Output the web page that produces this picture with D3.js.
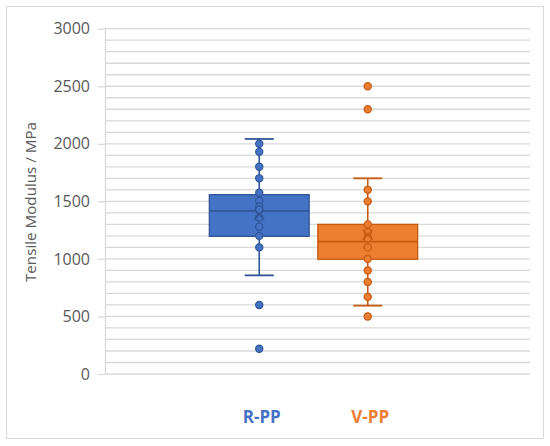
<!DOCTYPE html>
<html><head><meta charset="utf-8">
<script src="https://cdn.jsdelivr.net/npm/d3@7"></script>
<style>body{margin:0;background:#fff}svg{display:block}</style>
</head><body>
<svg id="c" width="550" height="446"></svg>
<script>
const series = ["R-PP", "V-PP"];
const fills = ["#4472C4", "#ED7D31"];
const strokes = ["#2F5597", "#C55A11"];
const q1 = [1196, 997];
const median = [1416, 1150];
const q3 = [1558, 1300];
const whiskerLow = [857, 594];
const whiskerHigh = [2042, 1700];
const mean = [1385, 1210];
const pointsRPP = [2000, 1930, 1800, 1700, 1575, 1505, 1455, 1430, 1360, 1280, 1200, 1100, 600, 220];
const pointsVPP = [2500, 2300, 1600, 1500, 1300, 1230, 1180, 1100, 1000, 900, 800, 670, 500];
const points = [pointsRPP, pointsVPP];
const yTicks = [0, 500, 1000, 1500, 2000, 2500, 3000];
const yTitle = "Tensile Modulus / MPa";

const svg = d3.select("#c");
const font = "'Open Sans', 'Noto Sans', sans-serif";
svg.append("rect").attr("x", 6.5).attr("y", 6.5).attr("width", 537).attr("height", 432)
  .attr("fill", "#fff").attr("stroke", "#D9D9D9").attr("stroke-width", 1);

const left = 105, right = 530;
const y = d3.scaleLinear().domain([0, 3000]).range([374, 28.7]);
const x = d3.scaleBand().domain(series).range([205, 422]).paddingInner(0.08).paddingOuter(0.04);

// gridlines
const minor = d3.range(0, 3001, 100);
svg.append("g").selectAll("line").data(minor).join("line")
  .attr("x1", left).attr("x2", right)
  .attr("y1", d => y(d)).attr("y2", d => y(d))
  .attr("stroke", "#D9D9D9").attr("stroke-width", 1.3);

// y axis
const axis = d3.axisLeft(y).tickValues(yTicks).tickFormat(d3.format("d")).tickSize(7).tickPadding(8).tickSizeOuter(0);
const gA = svg.append("g").attr("transform", `translate(${left},0)`).call(axis);
gA.select(".domain").attr("stroke", "#D9D9D9").attr("stroke-width", 1.3);
gA.selectAll(".tick line").attr("stroke", "#D9D9D9").attr("stroke-width", 1.3);
gA.selectAll(".tick text").attr("fill", "#595959").attr("font-family", font).attr("font-size", 16);

svg.append("text").attr("transform", "translate(36,202) rotate(-90)")
  .attr("text-anchor", "middle").attr("font-family", font).attr("font-size", 15.2)
  .attr("fill", "#595959").text(yTitle);

series.forEach((s, i) => {
  const g = svg.append("g");
  const x0 = x(s), bw = x.bandwidth(), cx = x0 + bw / 2;
  const cap = 29;
  // whiskers
  g.append("line").attr("x1", cx).attr("x2", cx).attr("y1", y(whiskerHigh[i])).attr("y2", y(q3[i]))
    .attr("stroke", strokes[i]).attr("stroke-width", 1.6);
  g.append("line").attr("x1", cx).attr("x2", cx).attr("y1", y(q1[i])).attr("y2", y(whiskerLow[i]))
    .attr("stroke", strokes[i]).attr("stroke-width", 1.6);
  [whiskerHigh[i], whiskerLow[i]].forEach(v => {
    g.append("line").attr("x1", cx - cap / 2).attr("x2", cx + cap / 2).attr("y1", y(v)).attr("y2", y(v))
      .attr("stroke", strokes[i]).attr("stroke-width", 1.8);
  });
  // box
  g.append("rect").attr("x", x0).attr("y", y(q3[i])).attr("width", bw).attr("height", y(q1[i]) - y(q3[i]))
    .attr("fill", fills[i]).attr("stroke", strokes[i]).attr("stroke-width", 1.3);
  g.append("line").attr("x1", x0).attr("x2", x0 + bw).attr("y1", y(median[i])).attr("y2", y(median[i]))
    .attr("stroke", strokes[i]).attr("stroke-width", 1.6);
  // points
  g.selectAll("circle").data(points[i]).join("circle")
    .attr("cx", cx).attr("cy", d => y(d)).attr("r", 3.6)
    .attr("fill", fills[i]).attr("stroke", strokes[i]).attr("stroke-width", 1.2);
  // mean X
  const m = y(mean[i]), h = 5;
  g.append("path").attr("d", `M${cx - h},${m - h}L${cx + h},${m + h}M${cx - h},${m + h}L${cx + h},${m - h}`)
    .attr("stroke", strokes[i]).attr("stroke-width", 1.4).attr("fill", "none");
  // label
  svg.append("text").attr("x", cx + 2.5).attr("y", 423).attr("text-anchor", "middle")
    .attr("font-family", font).attr("font-weight", "bold").attr("font-size", 17)
    .attr("fill", fills[i]).text(s);
});
</script>
</body></html>
